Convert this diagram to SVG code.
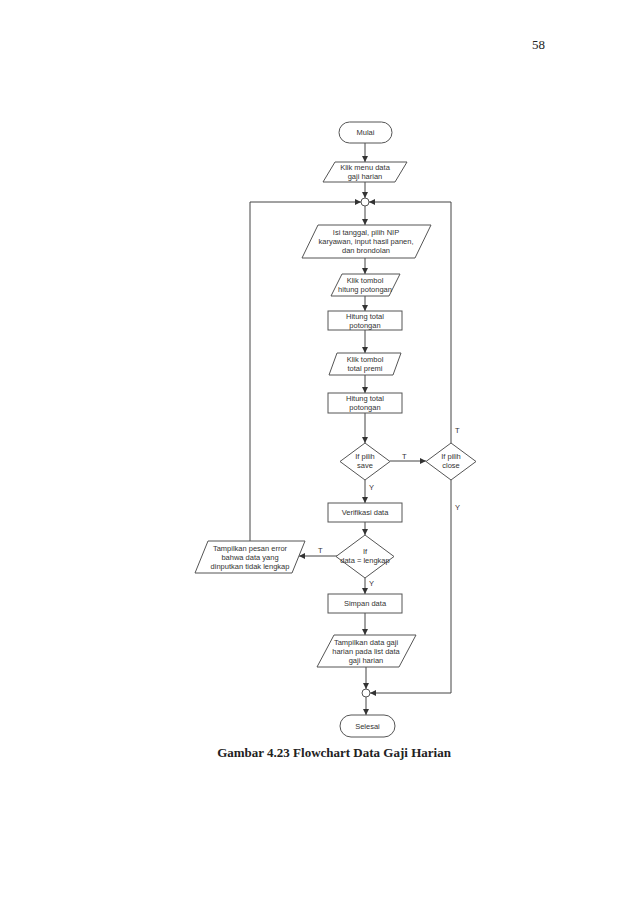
<svg xmlns="http://www.w3.org/2000/svg" width="638" height="903" viewBox="0 0 638 903">
<style>
.s{fill:#fff;stroke:#555;stroke-width:1}
.t{font-family:"Liberation Sans",Arial,sans-serif;font-size:7.5px;fill:#333;text-anchor:middle}
.c{fill:none;stroke:#444;stroke-width:1}
.l{font-family:"Liberation Sans",Arial,sans-serif;font-size:7.5px;fill:#333}
</style>
<defs>
<marker id="a" viewBox="0 0 8 8" refX="8" refY="4" markerWidth="6" markerHeight="6" orient="auto" markerUnits="userSpaceOnUse">
<path d="M0,0 L8,4 L0,8 Z" fill="#333"/>
</marker>
</defs>
<rect width="638" height="903" fill="#fff"/>
<text x="532" y="49" font-family="'Liberation Serif','Times New Roman',serif" font-size="13" fill="#222">58</text>

<g id="connectors">
<path class="c" d="M365,143 V162" marker-end="url(#a)"/>
<path class="c" d="M365,182 V198" marker-end="url(#a)"/>
<path class="c" d="M365,206 V225" marker-end="url(#a)"/>
<path class="c" d="M365,258 V274" marker-end="url(#a)"/>
<path class="c" d="M365,296 V311" marker-end="url(#a)"/>
<path class="c" d="M365,330 V353" marker-end="url(#a)"/>
<path class="c" d="M365,375 V393" marker-end="url(#a)"/>
<path class="c" d="M365,413 V443" marker-end="url(#a)"/>
<path class="c" d="M390,461 H426" marker-end="url(#a)"/>
<path class="c" d="M365,480 V503" marker-end="url(#a)"/>
<path class="c" d="M365,522 V535" marker-end="url(#a)"/>
<path class="c" d="M337,556 H299" marker-end="url(#a)"/>
<path class="c" d="M365,578 V594" marker-end="url(#a)"/>
<path class="c" d="M365,613 V635" marker-end="url(#a)"/>
<path class="c" d="M366,667 V689" marker-end="url(#a)"/>
<path class="c" d="M366,697 V715" marker-end="url(#a)"/>
<path class="c" d="M250,541 V202 H361" marker-end="url(#a)"/>
<path class="c" d="M451,443 V202 H369" marker-end="url(#a)"/>
<path class="c" d="M451,480 V693 H370" marker-end="url(#a)"/>
<text class="l" x="402" y="459">T</text>
<text class="l" x="455" y="433">T</text>
<text class="l" x="369" y="490">Y</text>
<text class="l" x="455" y="510">Y</text>
<text class="l" x="318" y="553">T</text>
<text class="l" x="369" y="586">Y</text>
</g>

<g id="mulai"><rect class="s" x="339" y="122" width="53" height="21" rx="10.5"/><text class="t" x="365.5" y="135">Mulai</text></g>
<g id="klik-menu"><path class="s" d="M335,162 H407 L395,182 H323 Z"/><text class="t" x="365" y="170">Klik menu data</text><text class="t" x="365" y="179">gaji harian</text></g>
<g id="j1"><circle class="s" cx="365" cy="202" r="4"/></g>
<g id="isi"><path class="s" d="M318,225 H431 L415,258 H302 Z"/><text class="t" x="366" y="235">Isi tanggal, pilih NIP</text><text class="t" x="366" y="244">karyawan, input hasil panen,</text><text class="t" x="366" y="253">dan brondolan</text></g>
<g id="klik-hitung"><path class="s" d="M342,274 H400 L389,296 H331 Z"/><text class="t" x="365" y="283">Klik tombol</text><text class="t" x="365" y="292">hitung potongan</text></g>
<g id="hitung1"><rect class="s" x="328" y="311" width="74" height="19"/><text class="t" x="365" y="319">Hitung total</text><text class="t" x="365" y="328">potongan</text></g>
<g id="klik-premi"><path class="s" d="M337,353 H401 L393,375 H329 Z"/><text class="t" x="365" y="362">Klik tombol</text><text class="t" x="365" y="371">total premi</text></g>
<g id="hitung2"><rect class="s" x="328" y="393" width="74" height="20"/><text class="t" x="365" y="401">Hitung total</text><text class="t" x="365" y="410">potongan</text></g>
<g id="if-save"><path class="s" d="M365,443 L390,461.5 L365,480 L340,461.5 Z"/><text class="t" x="365" y="459">If pilih</text><text class="t" x="365" y="468">save</text></g>
<g id="if-close"><path class="s" d="M451,443 L476,461.5 L451,480 L426,461.5 Z"/><text class="t" x="451" y="459">If pilih</text><text class="t" x="451" y="468">close</text></g>
<g id="verifikasi"><rect class="s" x="328" y="503" width="74" height="19"/><text class="t" x="365" y="515">Verifikasi data</text></g>
<g id="if-lengkap"><path class="s" d="M365,535 L394,556.5 L365,578 L336,556.5 Z"/><text class="t" x="365" y="554">If</text><text class="t" x="365" y="563">data = lengkap</text></g>
<g id="error"><path class="s" d="M208,541 H305 L292,573 H195 Z"/><text class="t" x="250" y="551">Tampilkan pesan error</text><text class="t" x="250" y="560">bahwa data yang</text><text class="t" x="250" y="569">dinputkan tidak lengkap</text></g>
<g id="simpan"><rect class="s" x="328" y="594" width="74" height="19"/><text class="t" x="365" y="606">Simpan data</text></g>
<g id="tampilkan"><path class="s" d="M334,635 H416 L399,667 H317 Z"/><text class="t" x="366" y="645">Tampilkan data gaji</text><text class="t" x="366" y="654">harian pada list data</text><text class="t" x="366" y="663">gaji harian</text></g>
<g id="j2"><circle class="s" cx="366" cy="693" r="4"/></g>
<g id="selesai"><rect class="s" x="340" y="715" width="55" height="22" rx="11"/><text class="t" x="367.5" y="729">Selesai</text></g>

<text x="334" y="757" text-anchor="middle" font-family="'Liberation Serif','Times New Roman',serif" font-weight="bold" font-size="13" fill="#222">Gambar 4.23 Flowchart Data Gaji Harian</text>
</svg>
